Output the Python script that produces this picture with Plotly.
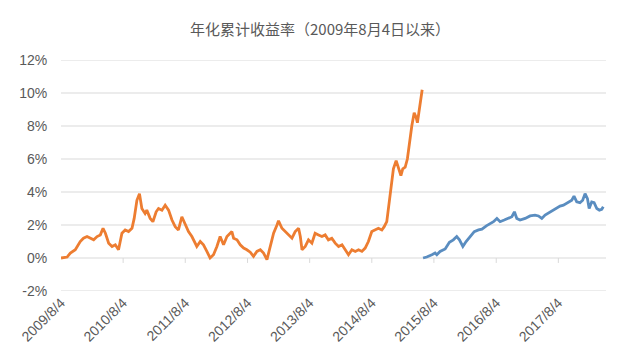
import plotly.graph_objects as go

title_text = "年化累计收益率（2009年8月4日以来）"

tick_dates = ["2009-08-04", "2010-08-04", "2011-08-04", "2012-08-04", "2013-08-04",
              "2014-08-04", "2015-08-04", "2016-08-04", "2017-08-04"]
tick_labels = ["2009/8/4", "2010/8/4", "2011/8/4", "2012/8/4", "2013/8/4",
               "2014/8/4", "2015/8/4", "2016/8/4", "2017/8/4"]

y_ticks = [-2, 0, 2, 4, 6, 8, 10, 12]
y_tick_labels = ["-2%", "0%", "2%", "4%", "6%", "8%", "10%", "12%"]

orange_dates = [
    "2009-08-04", "2009-09-09", "2009-09-28", "2009-10-27", "2009-11-25", "2009-12-14",
    "2010-01-04", "2010-01-23", "2010-02-12", "2010-03-04", "2010-03-23", "2010-04-08",
    "2010-04-22", "2010-05-11", "2010-05-31", "2010-06-19", "2010-07-08", "2010-07-28",
    "2010-08-16", "2010-09-05", "2010-09-25", "2010-10-08", "2010-10-24", "2010-11-08",
    "2010-11-22", "2010-12-11", "2010-12-21", "2011-01-10", "2011-01-26", "2011-02-14",
    "2011-02-28", "2011-03-20", "2011-04-08", "2011-04-28", "2011-05-18", "2011-06-06",
    "2011-06-25", "2011-07-15", "2011-08-04", "2011-08-23", "2011-09-12", "2011-10-11",
    "2011-10-31", "2011-11-19", "2011-12-09", "2011-12-28", "2012-01-17", "2012-02-06",
    "2012-02-25", "2012-03-16", "2012-04-05", "2012-05-04", "2012-05-14", "2012-06-03",
    "2012-06-22", "2012-07-12", "2012-07-31", "2012-08-20", "2012-09-08", "2012-09-28",
    "2012-10-18", "2012-11-06", "2012-11-26", "2012-12-15", "2013-01-04", "2013-01-24",
    "2013-02-02", "2013-02-22", "2013-03-13", "2013-04-02", "2013-04-22", "2013-05-11",
    "2013-05-31", "2013-06-10", "2013-06-20", "2013-07-09", "2013-07-28", "2013-08-17",
    "2013-09-05", "2013-09-25", "2013-10-15", "2013-11-03", "2013-11-22", "2013-12-12",
    "2014-01-01", "2014-01-21", "2014-02-10", "2014-03-01", "2014-03-20", "2014-04-09",
    "2014-04-29", "2014-05-18", "2014-06-07", "2014-06-26", "2014-07-15", "2014-08-04",
    "2014-08-24", "2014-09-12", "2014-10-02", "2014-10-16", "2014-10-31", "2014-11-10",
    "2014-11-24", "2014-12-09", "2014-12-25", "2015-01-08", "2015-01-22", "2015-02-02",
    "2015-02-16", "2015-03-01", "2015-03-13", "2015-03-27", "2015-04-10", "2015-04-22",
    "2015-04-29", "2015-05-08", "2015-05-15", "2015-05-21", "2015-05-27",
]
orange_values = [
    0.0, 0.06, 0.3, 0.5, 1.0, 1.2,
    1.3, 1.2, 1.1, 1.3, 1.4, 1.8,
    1.5, 0.9, 0.7, 0.8, 0.5, 1.5,
    1.7, 1.6, 1.8, 2.4, 3.5, 3.9,
    3.0, 2.7, 2.9, 2.4, 2.2, 2.8,
    3.0, 2.9, 3.2, 2.9, 2.3, 1.9,
    1.7, 2.5, 2.0, 1.6, 1.3, 0.7,
    1.0, 0.8, 0.4, 0.0, 0.2, 0.7,
    1.3, 0.8, 1.3, 1.6, 1.2, 1.1,
    0.8, 0.6, 0.5, 0.35, 0.1, 0.4,
    0.5, 0.3, -0.1, 0.7, 1.5, 2.0,
    2.26, 1.8, 1.6, 1.4, 1.2, 1.6,
    1.8, 1.3, 0.5, 0.7, 1.1, 0.9,
    1.5, 1.4, 1.3, 1.4, 1.1, 1.2,
    0.9, 0.7, 0.8, 0.5, 0.2, 0.5,
    0.4, 0.5, 0.4, 0.6, 1.0, 1.6,
    1.7, 1.8, 1.7, 1.9, 2.2, 3.1,
    4.3, 5.4, 5.9, 5.5, 5.0, 5.4,
    5.5, 6.0, 7.0, 8.0, 8.8, 8.5,
    8.2, 8.9, 9.6, 10.0, 10.2,
]

blue_dates = [
    "2015-06-01", "2015-06-23", "2015-07-23", "2015-08-11", "2015-08-21", "2015-09-09",
    "2015-10-09", "2015-11-03", "2015-11-26", "2015-12-16", "2016-01-01", "2016-01-21",
    "2016-02-09", "2016-03-04", "2016-03-28", "2016-04-22", "2016-05-12", "2016-06-07",
    "2016-06-30", "2016-07-19", "2016-08-08", "2016-08-27", "2016-09-20", "2016-10-15",
    "2016-11-04", "2016-11-19", "2016-12-03", "2016-12-22", "2017-01-21", "2017-02-19",
    "2017-03-20", "2017-04-09", "2017-04-29", "2017-05-18", "2017-06-17", "2017-07-16",
    "2017-08-14", "2017-09-03", "2017-10-02", "2017-10-22", "2017-11-04", "2017-11-20",
    "2017-12-09", "2017-12-25", "2018-01-08", "2018-01-22", "2018-02-01", "2018-02-16",
    "2018-03-02", "2018-03-18", "2018-04-02", "2018-04-16", "2018-04-25",
]
blue_values = [
    0.0, 0.06, 0.2, 0.3, 0.2, 0.4,
    0.55, 0.95, 1.1, 1.3, 1.1, 0.7,
    1.0, 1.3, 1.6, 1.7, 1.75, 1.95,
    2.1, 2.2, 2.4, 2.2, 2.3, 2.4,
    2.5, 2.8, 2.4, 2.3, 2.4, 2.55,
    2.6, 2.55, 2.4, 2.6, 2.8, 3.0,
    3.15, 3.2, 3.35, 3.5, 3.75, 3.4,
    3.35, 3.5, 3.9, 3.6, 3.0, 3.4,
    3.35, 3.0, 2.9, 2.95, 3.1,
]

x_range = ["2009-08-04", "2018-05-11"]
y_range = [-2, 12]

grid_color = "#d9d9d9"
text_color = "#595959"

fig = go.Figure()
fig.add_trace(go.Scatter(x=orange_dates, y=orange_values, mode="lines",
                         line=dict(color="#ED7D31", width=2.8), showlegend=False))
fig.add_trace(go.Scatter(x=blue_dates, y=blue_values, mode="lines",
                         line=dict(color="#5A8DC0", width=2.8), showlegend=False))

# horizontal gridlines drawn at the y tick values
for v in y_ticks:
    fig.add_shape(type="line", xref="paper", yref="y", x0=0, x1=1, y0=v, y1=v,
                  line=dict(color=grid_color, width=1), layer="below")

# small tick marks on the 0% line (Excel category axis crosses at 0)
for d in tick_dates[1:]:
    fig.add_shape(type="line", xref="x", yref="y", x0=d, x1=d, y0=0, y1=-0.3,
                  line=dict(color=grid_color, width=1), layer="below")

fig.update_layout(
    width=640, height=345,
    margin=dict(l=61, r=34, t=60, b=54),
    paper_bgcolor="white", plot_bgcolor="white",
    title=dict(text=title_text, x=0.5, xanchor="center", y=0.915, yanchor="middle",
               font=dict(family="Noto Sans CJK SC", size=15, color=text_color)),
    font=dict(family="Liberation Sans", color=text_color, size=14),
)
fig.update_xaxes(
    type="date", range=x_range, showgrid=False, zeroline=False, showline=False,
    tickmode="array", tickvals=tick_dates, ticktext=tick_labels, tickangle=-45,
    ticks="", tickfont=dict(size=14, color=text_color), automargin=False,
)
fig.update_yaxes(
    range=y_range, tickmode="array", tickvals=y_ticks, ticktext=y_tick_labels,
    showgrid=False, zeroline=False, showline=False, automargin=False,
    ticks="outside", ticklen=10, tickcolor="rgba(0,0,0,0)",
    tickfont=dict(size=14, color=text_color),
)

fig.write_html("out.html")
